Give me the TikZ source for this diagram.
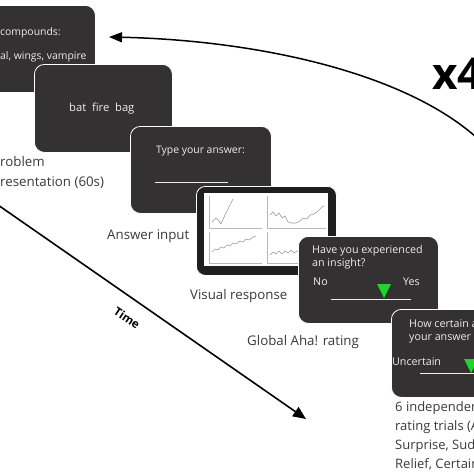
\documentclass[tikz,border=0pt]{standalone}
\usepackage{fontspec}
\setmainfont{Open Sans}
\usetikzlibrary{arrows.meta}
\definecolor{panel}{HTML}{333132}
\definecolor{ptext}{HTML}{EDEDED}
\definecolor{labtext}{HTML}{3A3A3A}
\definecolor{gridc}{HTML}{B8B8B8}
\definecolor{plotc}{HTML}{9A9A9A}
\definecolor{greenmark}{HTML}{1FD42A}
\tikzset{
  screen/.style={draw=white, line width=0.8pt, fill=panel, rounded corners=10pt, rectangle, anchor=north west, inner sep=0pt},
  ptxt/.style={text=ptext, font=\fontsize{10.4}{12}\selectfont, anchor=base west, inner sep=0pt},
  lab/.style={text=labtext, font=\fontsize{13.3}{19.5}\selectfont, anchor=base west, inner sep=0pt, align=left},
  scaleline/.style={draw=ptext, line width=0.8pt}
}
\begin{document}
\begin{tikzpicture}[x=1pt,y=-1pt]
\useasboundingbox (0,0) rectangle (474,474);
\clip (0,0) rectangle (474,474);
\fill[white] (0,0) rectangle (474,474);

% panel 1
\node[screen, minimum width=160pt, minimum height=87pt] (p1) at (-65,5) {};
\node[ptxt] (t1a) at (0,35) {compounds:};
\node[ptxt] (t1b) at (0,59) {al, wings, vampire};

% panel 2
\node[screen, minimum width=138pt, minimum height=88pt] (p2) at (34,64) {};
\node[ptxt, font=\fontsize{11.2}{12}\selectfont] (t2) at (69,111) {bat\ \ fire\ \ bag};
\node[lab] (l1) at (0,166) {roblem};
\node[lab] (l2) at (0,186) {resentation (60s)};

% panel 3
\node[screen, minimum width=141pt, minimum height=87pt] (p3) at (130,126) {};
\node[ptxt] (t3) at (156,153) {Type your answer:};
\coordinate (a3) at (155,182);
\coordinate (b3) at (228,182);
\draw[scaleline] (a3) -- (b3);
\node[lab] (l3) at (107,239) {Answer input};

% panel 4 tablet
\node[draw=white, line width=0.8pt, fill=black!88, rounded corners=9pt, rectangle, anchor=north west, minimum width=140pt, minimum height=89pt, inner sep=0pt] (p4) at (196,186) {};
\node[fill=white, rectangle, anchor=north west, minimum width=124pt, minimum height=73pt, inner sep=0pt] (scr) at (204,193) {};
\begin{scope}[line width=0.6pt]
\draw[gridc] (209,196) -- (209,228) -- (262,228);
\draw[gridc] (267,196) -- (267,228) -- (326,228);
\draw[gridc] (209,232) -- (209,263) -- (262,263);
\draw[gridc] (267,232) -- (267,263) -- (326,263);
\draw[plotc] (212,222) -- (216,218) -- (219,221) -- (221,224) -- (225,215) -- (229,207) -- (233,199);
\draw[plotc] (270,215) -- (273,212) -- (276,216) -- (279,213) -- (282,218) -- (285,216) -- (288,222) -- (291,223) -- (296,223) -- (300,221) -- (303,218) -- (307,219) -- (310,215) -- (314,214) -- (318,211) -- (322,207) -- (324,206);
\draw[plotc] (212,252) -- (215,249) -- (218,250) -- (221,247) -- (224,248) -- (227,245) -- (230,246) -- (233,243) -- (236,244) -- (240,241) -- (243,242) -- (246,239) -- (249,240) -- (253,237) -- (256,236);
\draw[plotc] (270,255) -- (273,252) -- (276,254) -- (279,251) -- (282,254) -- (285,251) -- (288,253) -- (291,250) -- (294,253) -- (297,251) -- (300,252);
\end{scope}
\node[lab] (l4) at (190,299) {Visual response};

% panel 5
\node[screen, minimum width=140pt, minimum height=87pt] (p5) at (298,236) {};
\node[ptxt, align=left, anchor=north west, font=\fontsize{10.7}{13}\selectfont] (t5) at (312,245) {Have you experienced\\an insight?};
\node[ptxt, font=\fontsize{10.7}{12}\selectfont] (no) at (313,285) {No};
\node[ptxt, font=\fontsize{10.7}{12}\selectfont] (yes) at (403,285) {Yes};
\coordinate (a5) at (331,299);
\coordinate (b5) at (411,299);
\draw[scaleline] (a5) -- (b5);
\coordinate (g5) at (384,298);
\fill[greenmark] (g5) -- ++(-7,-14) -- ++(14,0) -- cycle;
\node[lab] (l5) at (247,345) {Global Aha! rating};

% panel 6
\node[screen, minimum width=140pt, minimum height=88pt] (p6) at (391,309) {};
\node[ptxt, align=left, anchor=north west, font=\fontsize{10.7}{13.5}\selectfont] (t6) at (409,319) {How certain are you that\\your answer is correct?};
\node[ptxt, font=\fontsize{10.7}{12}\selectfont] (unc) at (392,365) {Uncertain};
\coordinate (a6) at (420,373);
\coordinate (b6) at (500,373);
\draw[scaleline] (a6) -- (b6);
\coordinate (g6) at (471,373);
\fill[greenmark] (g6) -- ++(-7,-14) -- ++(14,0) -- cycle;
\node[lab, font=\fontsize{13}{19.3}\selectfont, anchor=north west] (l6) at (395,401) {6 independent\\rating trials (Aha!,\\Surprise, Sudden,\\Relief, Certainty)};

% time arrow
\coordinate (ts) at (-2,205);
\coordinate (te) at (306,419);
\draw[line width=1.6pt, -{Triangle[length=13pt, width=11pt]}] (ts) -- (te);
\node[font=\bfseries\fontsize{11.5}{12}\selectfont, text=black, rotate=-34] (time) at (127,318) {Time};

% repeat arrow
\coordinate (rs) at (476,137);
\coordinate (re) at (109,37);
\draw[line width=1.5pt, -{Triangle[length=13pt, width=10pt]}] (rs) .. controls (400,70) and (250,40) .. (re);
\node[font=\bfseries\fontsize{44}{44}\selectfont, text=black, anchor=base west, inner sep=0pt] (x4) at (432,89) {x4};
\end{tikzpicture}
\end{document}
